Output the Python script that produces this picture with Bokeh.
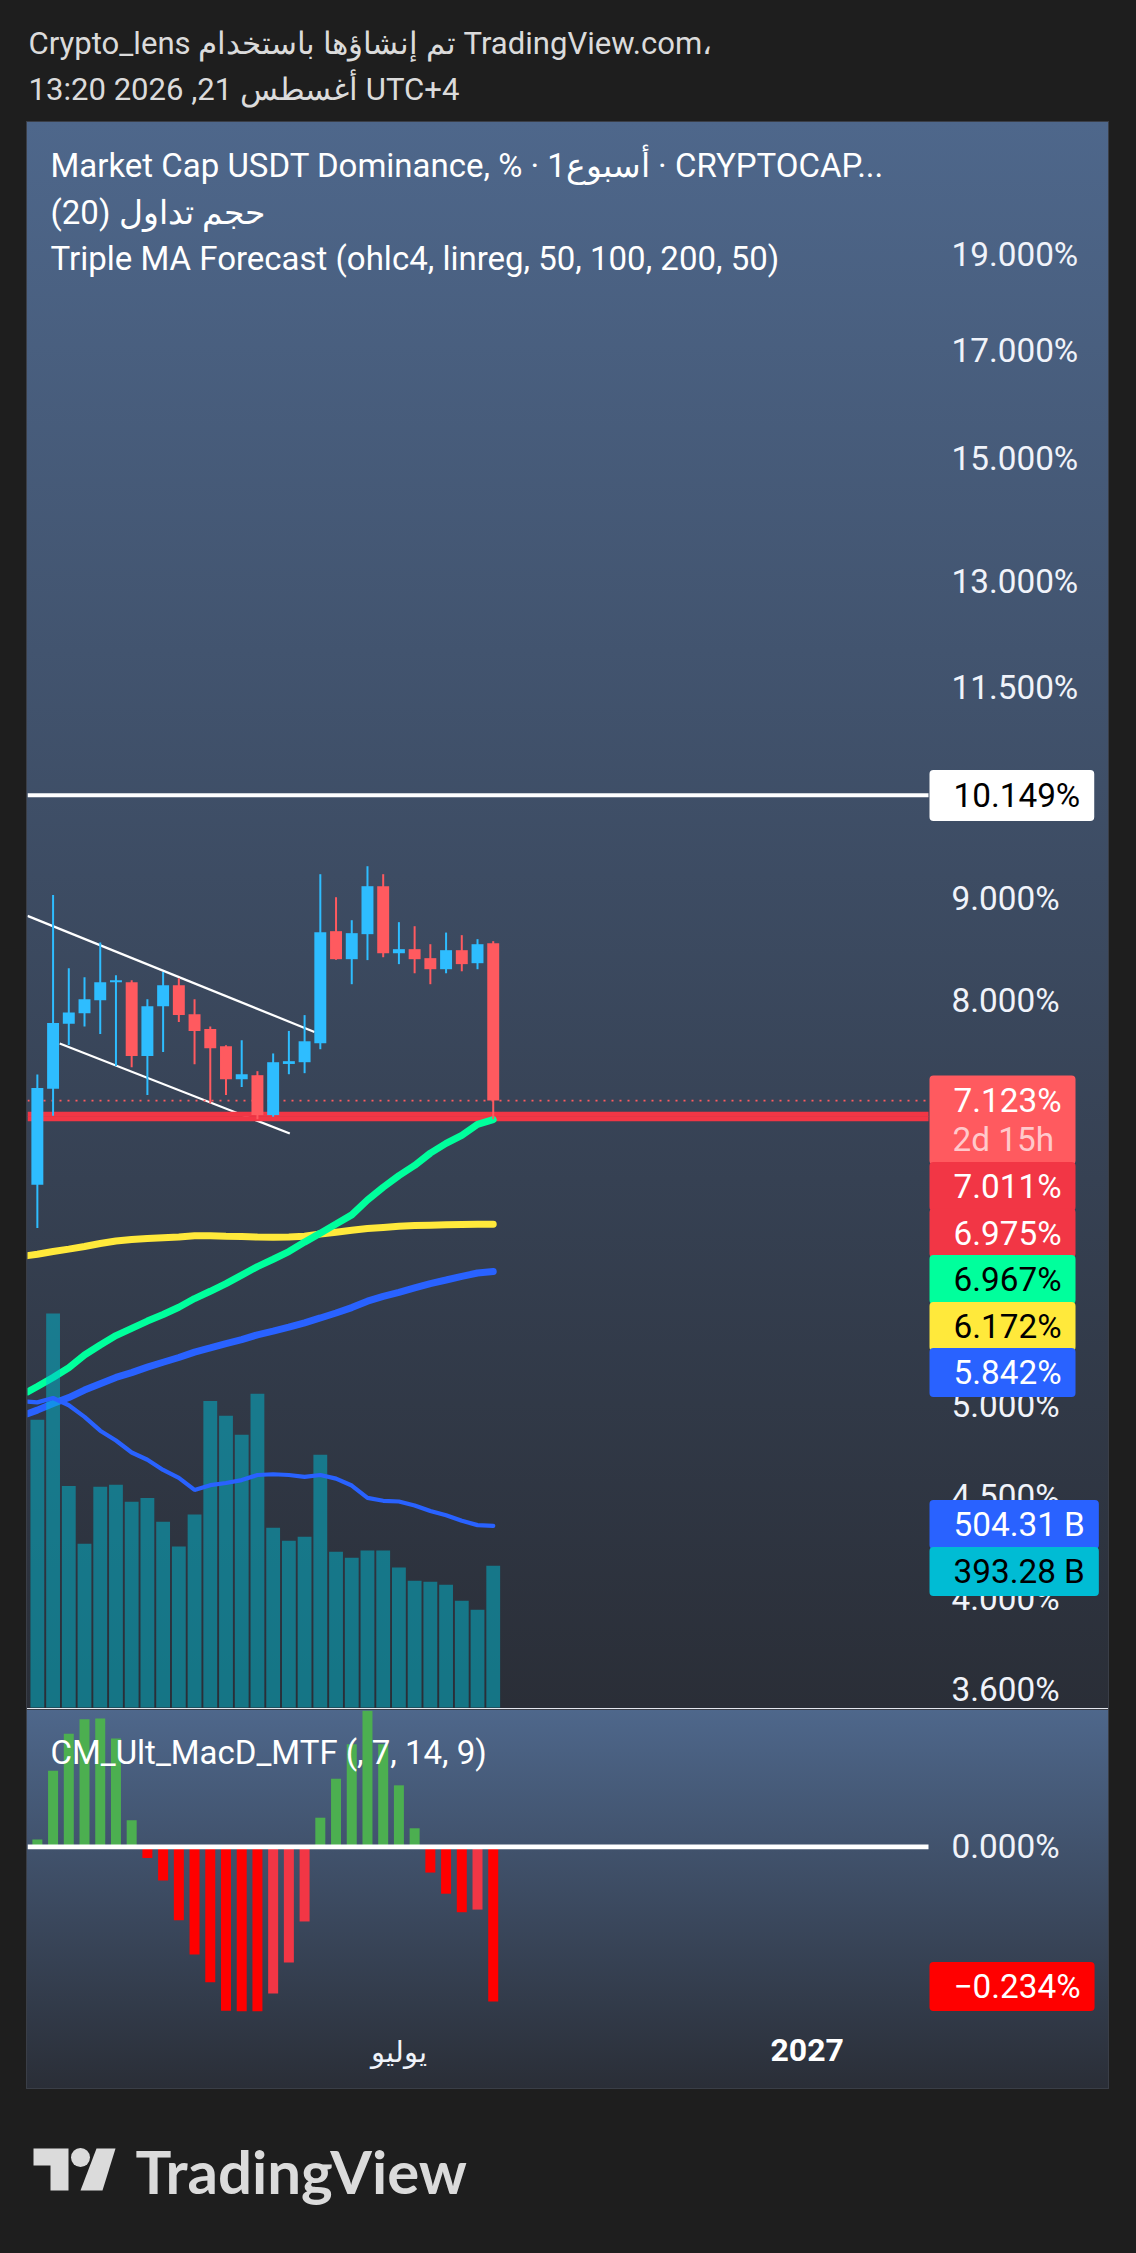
from bokeh.plotting import figure
from bokeh.layouts import column
from bokeh.models import Range1d, FixedTicker, PrintfTickFormatter, Label, LinearScale
from bokeh.embed import file_html
from bokeh.resources import INLINE

# ---------- data ----------
highs = [7.341,9.040,8.304,8.218,8.556,8.237,8.189,8.012,8.269,8.208,8.012,7.761,7.595,7.639,7.370,7.523,7.722,7.865,9.261,9.017,8.780,9.347,9.261,8.760,8.719,8.539,8.655,8.629,8.589,8.569]
opens = [6.461,7.222,7.787,7.883,8.002,8.170,8.170,7.500,7.947,8.142,7.874,7.740,7.586,7.302,7.336,7.004,7.432,7.447,7.612,8.669,8.392,8.639,9.133,8.450,8.490,8.402,8.295,8.480,8.353,8.549]
closes = [7.227,7.793,7.889,8.012,8.170,8.189,7.500,7.947,8.142,7.865,7.722,7.568,7.302,7.344,7.004,7.447,7.456,7.630,8.659,8.392,8.649,9.133,8.450,8.490,8.392,8.295,8.480,8.344,8.539,7.123]
lows = [6.144,6.999,7.598,7.761,7.695,7.415,7.404,7.169,7.535,7.802,7.430,7.099,7.169,7.235,6.971,6.991,7.344,7.353,7.560,8.386,8.152,8.383,8.411,8.344,8.256,8.152,8.256,8.275,8.295,6.971]
ma_x = [-0.627] + list(range(30))
ma_fast = [5.081,5.113,5.167,5.226,5.303,5.365,5.424,5.470,5.516,5.558,5.605,5.662,5.710,5.761,5.818,5.876,5.926,5.979,6.045,6.108,6.173,6.239,6.348,6.442,6.529,6.607,6.702,6.778,6.842,6.929,6.967]
ma_mid = [5.951,5.961,5.979,5.996,6.014,6.035,6.053,6.063,6.071,6.076,6.081,6.089,6.089,6.086,6.084,6.081,6.080,6.081,6.086,6.102,6.115,6.128,6.141,6.149,6.157,6.162,6.165,6.168,6.170,6.171,6.172]
ma_slow = [4.954,4.975,5.013,5.048,5.092,5.130,5.167,5.196,5.229,5.259,5.288,5.321,5.347,5.374,5.399,5.429,5.452,5.477,5.505,5.536,5.568,5.603,5.645,5.676,5.703,5.732,5.761,5.785,5.810,5.832,5.842]
volume = [798.7,1094.1,615.1,454.8,613.1,618.1,570.8,581.8,515.3,446.7,535.5,851.1,809.7,757.3,871.3,499.2,462.9,474.0,701.8,432.6,415.5,435.6,435.6,388.2,351.9,348.9,340.8,296.5,271.3,393.28]
volume_ma = [849.1,847.1,859.2,839.0,806.7,768.4,741.2,707.9,687.7,659.5,637.3,604.0,617.1,623.2,631.3,645.4,647.4,645.4,640.3,645.4,635.3,616.1,581.8,573.8,571.8,560.7,545.5,533.4,518.3,506.2,504.31]
macd_hist = [0.011,0.115,0.171,0.193,0.194,0.164,0.040,-0.017,-0.051,-0.111,-0.163,-0.205,-0.248,-0.249,-0.249,-0.222,-0.175,-0.113,0.044,0.103,0.155,0.220,0.155,0.093,0.028,-0.039,-0.071,-0.099,-0.095,-0.234]
macd_colors = ["#4caf50"]*7 + ["#ff0000"]*8 + ["#f23645"]*3 + ["#4caf50"]*7 + ["#ff0000"]*3 + ["#f23645"] + ["#ff0000"]
trend_upper_x = [-0.627, 17.63]
trend_upper_y = [8.824, 7.713]
trend_lower_x = [1.42, 16.06]
trend_lower_y = [7.610, 6.856]
price_ticks = [19, 17, 15, 13, 11.5, 10, 9, 8, 5, 4.5, 4, 3.6]
time_ticks = {23: "يوليو", 49: ""}
resistance = 10.149
last_price = 7.123
support_a = 7.011
support_b = 6.975

# ---------- style ----------
FONT = "Roboto"
FS = "33.3px"
LEG = "33px"
GRAD = "linear-gradient(180deg,#4e678b 0%,#2a2e37 100%)"
UP = "#2ebdff"
DOWN = "#ff5a5f"
RED = "#f23645"
GREEN = "#00ff9c"
YELLOW = "#ffe93b"
BLUE = "#2962ff"
X0, XAXIS, X1 = -0.627, 56.69, 68.14


def bare(p):
    p.background_fill_alpha = 0
    p.border_fill_alpha = 0
    p.outline_line_alpha = 0
    p.grid.visible = False
    p.min_border = 0


def tidy(ax):
    ax.axis_line_alpha = 0
    ax.major_tick_line_alpha = 0
    ax.minor_tick_line_alpha = 0
    ax.major_tick_out = 0
    ax.minor_tick_out = 0
    ax.major_label_text_color = "#f0f3fa"
    ax.major_label_text_font = FONT
    ax.major_label_text_font_size = FS


def tag(p, text, x, y, color="#ffffff", bg=None, pad=None, size=FS, style="normal", font=FONT):
    lab = Label(x=x, y=y, x_units="canvas", y_units="canvas", text=text, text_color=color,
                text_font=font, text_font_size=size, text_font_style=style,
                text_align="left", text_baseline="middle")
    if bg:
        lab.background_fill_color = bg
        lab.padding = pad
        lab.border_radius = 4
    p.add_layout(lab)


# ---------- header ----------
head = figure(width=1136, height=122, x_range=Range1d(0, 1136), y_range=Range1d(122, 0),
              x_axis_location=None, y_axis_location=None, toolbar_location=None, output_backend="svg")
bare(head)
tag(head, "Crypto_lens تم إنشاؤها باستخدام TradingView.com،", 28, 43, color="#dbdbdb", size="31.1px")
tag(head, "13:20 2026 ,21 أغسطس UTC+4", 28, 89, color="#dbdbdb", size="31.1px")

# ---------- main pane ----------
main = figure(width=1081, height=1586, y_axis_type="log", x_range=Range1d(X0, X1), y_range=Range1d(3.52, 22.14),
              x_axis_location=None, y_axis_location="right", toolbar_location=None, output_backend="svg",
              margin=(0, 28, 0, 27), styles={"background": GRAD, "outline": "1px solid #3a3e47"})
bare(main)
main.extra_y_ranges = {"vol": Range1d(-3, 4401)}
main.extra_y_scales = {"vol": LinearScale()}
ax = main.yaxis[0]
ax.ticker = FixedTicker(ticks=price_ticks)
ax.formatter = PrintfTickFormatter(format="%.3f%%")
ax.fixed_location = XAXIS
tidy(ax)
ax.major_label_standoff = 23

n = len(closes)
xs = list(range(n))
main.line(trend_upper_x, trend_upper_y, line_color="#ffffff", line_width=2.2)
main.line(trend_lower_x, trend_lower_y, line_color="#ffffff", line_width=2.2)
main.line([X0, XAXIS], [resistance, resistance], line_color="#ffffff", line_width=4)
main.line([X0, XAXIS], [support_a, support_a], line_color=RED, line_width=5)
main.line([X0, XAXIS], [support_b, support_b], line_color=RED, line_width=5)
main.line([X0, XAXIS], [last_price, last_price], line_color=DOWN, line_width=1.6, line_dash="2 6")
main.line(ma_x, ma_mid, line_color=YELLOW, line_width=7, line_cap="round")
main.line(ma_x, ma_slow, line_color=BLUE, line_width=7, line_cap="round")
main.line(ma_x, ma_fast, line_color=GREEN, line_width=7, line_cap="round")
main.vbar(x=xs, top=volume, bottom=0, width=0.88, y_range_name="vol", fill_color="#00bcd4", fill_alpha=0.5, line_alpha=0)
main.line(ma_x, volume_ma, y_range_name="vol", line_color=BLUE, line_width=4.2, line_cap="round")
colors = [UP if c >= o else DOWN for o, c in zip(opens, closes)]
main.segment(x0=xs, y0=lows, x1=xs, y1=highs, line_color=colors, line_width=2)
main.vbar(x=xs, bottom=[min(o, c) for o, c in zip(opens, closes)], top=[max(o, c) for o, c in zip(opens, closes)],
          width=0.76, fill_color=colors, line_alpha=0)

tag(main, "Market Cap USDT Dominance, % · 1أسبوع · CRYPTOCAP...", 23, 43, size=LEG)
tag(main, "(20) حجم تداول", 23, 90, size=LEG)
tag(main, "Triple MA Forecast (ohlc4, linreg, 50, 100, 200, 50)", 23, 136, size=LEG)
# Padding order used by Label: (left, right, top, bottom)
BX = 902
P = (24, 14, 5, 5)
tag(main, "10.149%", BX, 673, color="#000000", bg="#ffffff", pad=(24, 14, 6, 6))
tag(main, "7.123%", BX, 997.5, bg=DOWN, pad=(24, 14, 5, 45))
tag(main, "2d 15h", 925, 1016.7, color="#ffc9cb")
tag(main, "7.011%", BX, 1064, bg=RED, pad=P)
tag(main, "6.975%", BX, 1110.5, bg=RED, pad=P)
tag(main, "6.967%", BX, 1157, color="#000000", bg=GREEN, pad=P)
tag(main, "6.172%", BX, 1204, color="#000000", bg=YELLOW, pad=P)
tag(main, "5.842%", BX, 1250, bg=BLUE, pad=P)
tag(main, "504.31 B", BX, 1402, bg=BLUE, pad=P)
tag(main, "393.28 B", BX, 1449, color="#000000", bg="#00bcd4", pad=P)

# ---------- MACD pane ----------
sub = figure(width=1081, height=378, x_range=Range1d(X0, X1), y_range=Range1d(-0.3657, 0.2062),
             x_axis_location="below", y_axis_location="right", toolbar_location=None, output_backend="svg",
             margin=(2, 28, 0, 27),
             styles={"background": GRAD, "outline": "1px solid #3a3e47", "box-shadow": "0 -2px 0 #e3e6ee"})
bare(sub)
ay = sub.yaxis[0]
ay.ticker = FixedTicker(ticks=[0])
ay.formatter = PrintfTickFormatter(format="%.3f%%")
ay.fixed_location = XAXIS
tidy(ay)
ay.major_label_standoff = 23
axx = sub.xaxis[0]
axx.ticker = FixedTicker(ticks=list(time_ticks))
axx.major_label_overrides = time_ticks
axx.fixed_location = -0.2703
tidy(axx)
axx.major_label_standoff = 10
axx.major_label_text_font_size = "29px"

sub.vbar(x=xs, top=macd_hist, bottom=0, width=0.636, fill_color=macd_colors, line_alpha=0)
sub.line([X0, XAXIS], [0, 0], line_color="#ffffff", line_width=4.7)
tag(sub, "CM_Ult_MacD_MTF (, 7, 14, 9)", 23, 42, size=LEG)
tag(sub, "−0.234%", BX, 276, bg="#ff0000", pad=P)
tag(sub, "2027", 743, 339, style="bold", size="32px")

# ---------- footer ----------
foot = figure(width=1136, height=165, x_range=Range1d(0, 1136), y_range=Range1d(2253, 2088),
              x_axis_location=None, y_axis_location=None, toolbar_location=None, output_backend="svg")
bare(foot)
LOGO = "#dbdbdb"
foot.patch([33, 68, 68, 50, 50, 33], [2148, 2148, 2190, 2190, 2165, 2165], fill_color=LOGO, line_alpha=0)
foot.patch([96, 115, 102, 80], [2148, 2148, 2190, 2190], fill_color=LOGO, line_alpha=0)
foot.scatter([80], [2157], size=19, marker="circle", fill_color=LOGO, line_alpha=0)
tag(foot, "TradingView", 135, 82, color=LOGO, size="60px", style="bold", font="Lato")

page = column(head, main, sub, foot, spacing=0)
html = file_html(page, INLINE)
html = html.replace("</head>", "<style>html,body{background:#1e1e1e}</style></head>", 1)
open("out.html", "w").write(html)
